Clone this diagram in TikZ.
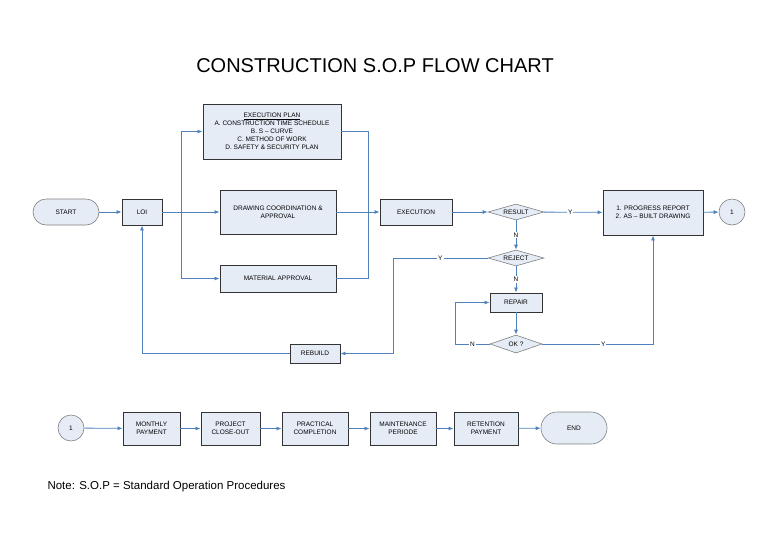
\documentclass[tikz,border=0pt]{standalone}
\usepackage{fontspec}
\setmainfont{Liberation Sans}
\usetikzlibrary{shapes.geometric,arrows.meta}
\definecolor{fillb}{HTML}{E6ECF6}
\definecolor{lineb}{HTML}{4F81BD}
\begin{document}
\begin{tikzpicture}[x=1pt,y=-1pt,
  box/.style={draw=black!80,line width=0.9pt,fill=fillb,align=center,font=\fontsize{6.5}{8}\selectfont,inner sep=1pt},
  term/.style={draw=gray,line width=0.6pt,fill=fillb,rounded corners=13pt,font=\fontsize{6.5}{8}\selectfont,minimum width=66pt,minimum height=26pt},
  dia/.style={diamond,aspect=3.5,draw=gray,line width=0.6pt,fill=fillb,font=\fontsize{6.5}{8}\selectfont,inner sep=0.5pt},
  circ/.style={circle,draw=gray,line width=0.6pt,fill=fillb,font=\fontsize{6.5}{8}\selectfont,minimum size=26pt},
  con/.style={draw=lineb,line width=0.8pt,-{Latex[length=5pt,width=4pt]}},
  lbl/.style={fill=white,font=\fontsize{6.5}{8}\selectfont,inner sep=1pt}]
\useasboundingbox (0,0) rectangle (768,542);
\node[font=\fontsize{20}{24}\selectfont] (title) at (375,66) {CONSTRUCTION S.O.P FLOW CHART};
\node[anchor=west,font=\fontsize{11.5}{14}\selectfont] (note) at (44,487) {Note: S.O.P = Standard Operation Procedures};

\node[term] (start) at (66,212) {START};
\node[box,minimum width=40pt,minimum height=26pt] (loi) at (142,212) {LOI};
\node[box,minimum width=138pt,minimum height=55pt] (plan) at (272,131.5) {\underline{EXECUTION PLAN}\\A. CONSTRUCTION TIME SCHEDULE\\B. S -- CURVE\\C. METHOD OF WORK\\D. SAFETY \& SECURITY PLAN};
\node[box,minimum width=116pt,minimum height=44pt] (draw) at (278,212) {DRAWING COORDINATION \&\\APPROVAL};
\node[box,minimum width=116pt,minimum height=27pt] (mat) at (278,278.5) {MATERIAL APPROVAL};
\node[box,minimum width=72pt,minimum height=26pt] (exec) at (416,212) {EXECUTION};
\node[dia,minimum width=56pt,minimum height=16pt] (result) at (516,212) {RESULT};
\node[box,minimum width=100pt,minimum height=45pt] (prog) at (653,212.5) {1. PROGRESS REPORT\\2. AS -- BUILT DRAWING};
\node[circ] (c1) at (732,212) {1};
\node[dia,minimum width=56pt,minimum height=16pt] (reject) at (516,258) {REJECT};
\node[box,minimum width=52pt,minimum height=19pt] (repair) at (516,302.5) {REPAIR};
\node[dia,minimum width=52pt,minimum height=18pt] (ok) at (516,344) {OK ?};
\node[box,minimum width=50pt,minimum height=19pt] (rebuild) at (315,353.5) {REBUILD};

\node[circ] (c2) at (71,428) {1};
\node[box,minimum width=57pt,minimum height=33pt] (m1) at (151.5,428.5) {MONTHLY\\PAYMENT};
\node[box,minimum width=59pt,minimum height=33pt] (m2) at (230.5,428.5) {PROJECT\\CLOSE-OUT};
\node[box,minimum width=66pt,minimum height=33pt] (m3) at (315,428.5) {PRACTICAL\\COMPLETION};
\node[box,minimum width=66pt,minimum height=33pt] (m4) at (403,428.5) {MAINTENANCE\\PERIODE};
\node[box,minimum width=64pt,minimum height=33pt] (m5) at (486,428.5) {RETENTION\\PAYMENT};
\node[term,minimum height=32pt,rounded corners=16pt] (end) at (574,428) {END};

\coordinate (bx) at (181,212);
\coordinate (mx) at (368,212);
\draw[con] (start) -- (loi);
\draw[con] (loi) -- (draw);
\draw[con] (bx) |- (plan.west);
\draw[con] (bx) |- (mat.west);
\draw[draw=lineb,line width=0.8pt] (plan.east) -| (mx);
\draw[draw=lineb,line width=0.8pt] (mat.east) -| (mx);
\draw[con] (draw) -- (exec);
\draw[con] (exec) -- (result);
\draw[con] (result) -- node[lbl,pos=0.45]{Y} (prog);
\draw[con] (prog) -- (c1);
\draw[con] (result) -- node[lbl]{N} (reject);
\draw[con] (reject) -- node[lbl]{N} (repair);
\draw[con] (reject.west) -- node[lbl,pos=0.5]{Y} (393,258) |- (rebuild.east);
\draw[con] (rebuild.west) -| (loi.south);
\draw[con] (repair) -- (ok);
\draw[con] (ok.west) -- node[lbl]{N} (455,344) |- (repair.west);
\draw[con] (ok.east) -- node[lbl,pos=0.55]{Y} (653,344) -- (prog.south);

\draw[con] (c2) -- (m1);
\draw[con] (m1) -- (m2);
\draw[con] (m2) -- (m3);
\draw[con] (m3) -- (m4);
\draw[con] (m4) -- (m5);
\draw[con] (m5) -- (end);
\end{tikzpicture}
\end{document}
